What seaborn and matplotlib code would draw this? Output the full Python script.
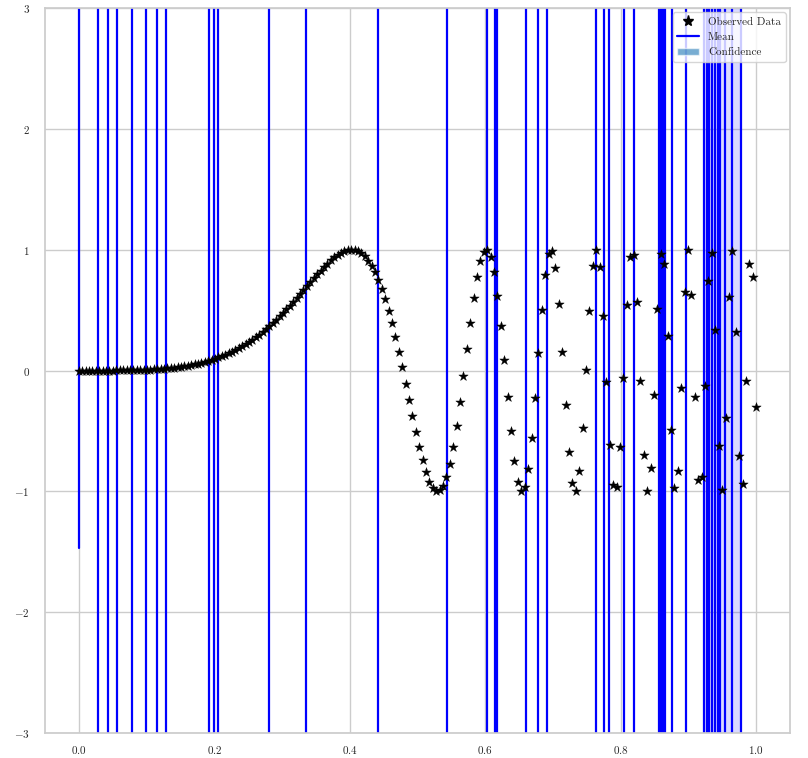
import numpy as np
import pandas as pd
import seaborn as sns
import matplotlib.pyplot as plt
from matplotlib.lines import Line2D
from matplotlib.patches import Patch

sns.set_theme(style="whitegrid")
plt.rcParams['font.family'] = 'serif'
plt.rcParams['font.serif'] = ['cmr10', 'DejaVu Serif']
plt.rcParams['mathtext.fontset'] = 'cm'
plt.rcParams['axes.formatter.use_mathtext'] = True

# observed data: 200 evenly spaced samples on [0, 1]
obs_x = np.linspace(0, 1, 200)
obs_y = [
    0.000, 0.000, 0.000, 0.000, 0.000, 0.000, 0.000, 0.000, 0.000, 0.000,
    0.000, 0.001, 0.001, 0.001, 0.001, 0.002, 0.003, 0.003, 0.004, 0.005,
    0.006, 0.007, 0.009, 0.011, 0.013, 0.015, 0.017, 0.020, 0.024, 0.027,
    0.031, 0.035, 0.040, 0.045, 0.051, 0.057, 0.064, 0.072, 0.080, 0.088,
    0.098, 0.108, 0.119, 0.130, 0.143, 0.156, 0.170, 0.186, 0.202, 0.219,
    0.237, 0.256, 0.276, 0.297, 0.320, 0.343, 0.367, 0.393, 0.420, 0.447,
    0.476, 0.505, 0.536, 0.567, 0.599, 0.631, 0.664, 0.697, 0.730, 0.763,
    0.795, 0.826, 0.856, 0.885, 0.912, 0.936, 0.957, 0.975, 0.988, 0.997,
    1.000, 0.997, 0.987, 0.970, 0.945, 0.910, 0.867, 0.813, 0.749, 0.675,
    0.590, 0.495, 0.390, 0.276, 0.154, 0.025, -0.108, -0.243, -0.378, -0.509,
    -0.632, -0.744, -0.841, -0.919, -0.972, -0.998, -0.993, -0.955, -0.881, -0.772,
    -0.630, -0.457, -0.260, -0.045, 0.178, 0.397, 0.601, 0.775, 0.906, 0.984,
    0.997, 0.940, 0.813, 0.619, 0.370, 0.084, -0.217, -0.504, -0.748, -0.921,
    -0.998, -0.963, -0.814, -0.560, -0.229, 0.141, 0.499, 0.790, 0.966, 0.989,
    0.847, 0.553, 0.152, -0.287, -0.676, -0.934, -0.994, -0.833, -0.474, 0.008,
    0.496, 0.863, 1.000, 0.855, 0.455, -0.092, -0.619, -0.950, -0.961, -0.629,
    -0.059, 0.543, 0.939, 0.954, 0.563, -0.084, -0.701, -0.996, -0.807, -0.205,
    0.513, 0.963, 0.878, 0.283, -0.490, -0.970, -0.835, -0.147, 0.651, 1.000,
    0.627, -0.221, -0.908, -0.879, -0.128, 0.740, 0.972, 0.333, -0.621, -0.992,
    -0.394, 0.607, 0.988, 0.317, -0.708, -0.942, -0.086, 0.880, 0.775, -0.305,
]

# predicted mean: starts at -1.47 and flips far outside the view at these x
mean_start = -1.47
mean_flips = [
    0.0, 0.0282, 0.0434, 0.0564, 0.0785, 0.0997, 0.115, 0.129, 0.192, 0.200,
    0.206, 0.281, 0.336, 0.442, 0.544, 0.602, 0.614, 0.618, 0.660, 0.678,
    0.691, 0.764, 0.776, 0.783, 0.805, 0.820, 0.857, 0.860, 0.863, 0.866,
    0.876, 0.896, 0.923, 0.927, 0.931, 0.935, 0.939, 0.943, 0.946, 0.954,
    0.965, 0.978,
]
mean_far = 1000.0

# confidence region (only shows as thin slivers)
conf_x = [0.0, 0.4222, 0.4222, 0.4228, 0.4228, 1.0]
conf_lower = [0.0, 0.0, -1000.0, -1000.0, 0.0, 0.0]
conf_upper = [0.0, 0.0, 1000.0, 1000.0, 0.0, 0.0]
dense_x = [0.9225, 0.978]

mx = [0.0, 0.0]
my = [mean_start, mean_far]
sign = 1
for c in mean_flips[1:]:
    mx += [c, c]
    my += [sign * mean_far, -sign * mean_far]
    sign = -sign
mean_df = pd.DataFrame({'x': mx, 'y': my})
obs_df = pd.DataFrame({'x': obs_x, 'y': obs_y})

fig = plt.figure(figsize=(8.08, 7.58), dpi=100)
ax = fig.add_axes([45 / 808, 25 / 758, 745 / 808, 725 / 758])

ax.fill_between(conf_x, conf_lower, conf_upper, color='#1f77b4', alpha=0.6, lw=0)
ax.axvspan(dense_x[0], dense_x[1], color='blue', alpha=0.15, lw=0)
sns.lineplot(data=mean_df, x='x', y='y', sort=False, estimator=None,
             color='blue', lw=1.6, ax=ax)
sns.scatterplot(data=obs_df, x='x', y='y', marker='*', s=50, color='black',
                edgecolor='black', linewidth=0.3, ax=ax, zorder=3)

ax.set_xlim(-0.05, 1.05)
ax.set_ylim(-3, 3)
ax.set_xticks([0.0, 0.2, 0.4, 0.6, 0.8, 1.0])
ax.set_yticks([-3, -2, -1, 0, 1, 2, 3])
ax.set_xlabel('')
ax.set_ylabel('')
ax.tick_params(axis='x', labelsize=8, pad=2)
ax.tick_params(axis='y', labelsize=8, pad=5)

handles = [
    Line2D([], [], marker='*', color='black', ls='none', markersize=8),
    Line2D([], [], color='blue', lw=1.6),
    Patch(facecolor='#1f77b4', alpha=0.6),
]
ax.legend(handles, ['Observed Data', 'Mean', 'Confidence'], loc='upper right',
          fontsize=8, frameon=True, borderaxespad=0.4)

fig.savefig('out.png', dpi=100)
